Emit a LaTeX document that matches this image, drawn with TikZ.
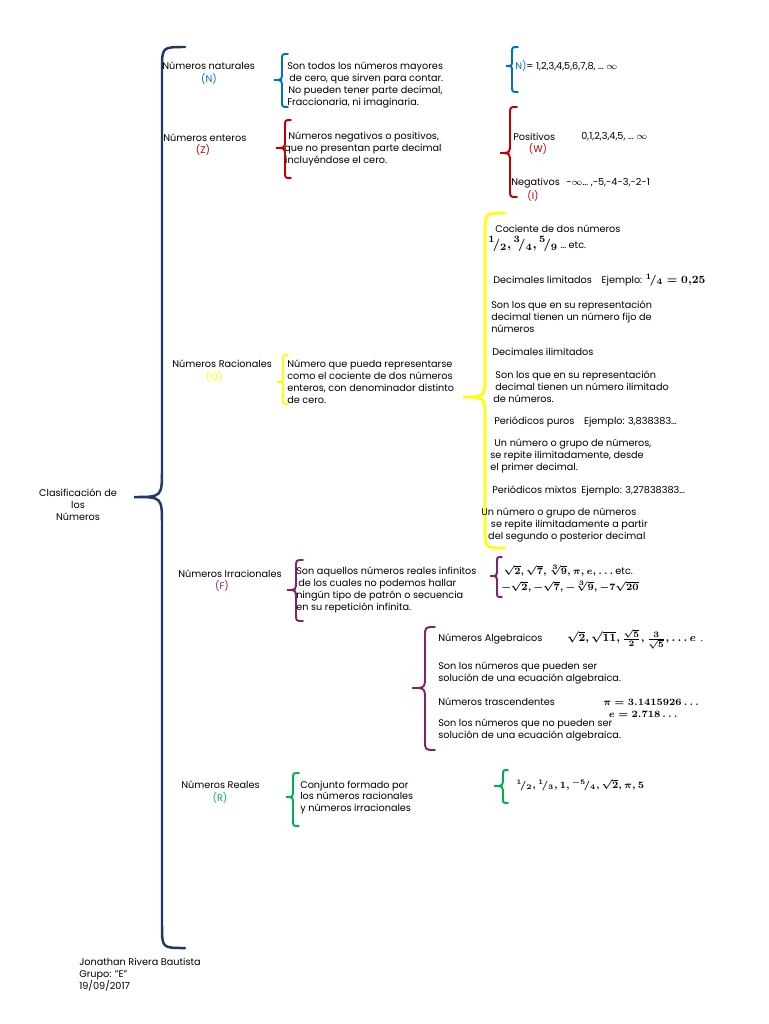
\documentclass[tikz,border=0pt]{standalone}
\usepackage{amsmath}
\usepackage{fontspec}
\setmainfont{Poppins}
\usepackage{tikz}
\usetikzlibrary{positioning}
\definecolor{Navy}{HTML}{1F3864}
\definecolor{Blue}{HTML}{0070C0}
\definecolor{Red}{HTML}{C00000}
\definecolor{Yellow}{HTML}{FFFF00}
\definecolor{Purple}{HTML}{7F2468}
\definecolor{Green}{HTML}{00B050}
% curly bracket: style, x, top, tip, bottom, end curl, tip depth
\newcommand{\llave}[7]{
  \draw[#1] (#2+#6,#3) .. controls (#2,#3) .. (#2,#3+#6)
    -- (#2,#4-#7) .. controls (#2,#4) .. (#2-#7,#4)
    .. controls (#2,#4) .. (#2,#4+#7)
    -- (#2,#5-#6) .. controls (#2,#5) .. (#2+#6,#5);
}
\newcommand{\mth}[2][8]{{\fontsize{#1}{10}\selectfont\boldmath$#2$}}
\tikzset{
  txt/.style={anchor=west, inner sep=0pt, align=left, font=\fontsize{7}{8.64}\selectfont},
  sym/.style={inner sep=0pt, font=\fontsize{7}{8.64}\selectfont},
  brace/.style={line width=1.4pt, line cap=round},
}

\begin{document}
\begin{tikzpicture}[x=0.01in, y=-0.01in]
    \fill[white] (0,0) rectangle (768,1024);
    \useasboundingbox (0,0) rectangle (768,1024);
    % main bracket
    \llave{brace, Navy, line width=1.8pt}{162}{47}{497}{948}{23}{28}
    \node[txt, align=center, anchor=center] (clas) at (78,505) {Clasificación de\\los\\Números};
    % second level
    \node[txt] (nat) at (162,66) {Números naturales};
    \node[sym, Blue] (natsym) at (209,79) {(N)};
    \node[txt] (ent) at (163,138) {Números enteros};
    \node[sym, Red] (entsym) at (203,150) {(Z)};
    \node[txt] (rac) at (172,364) {Números Racionales};
    \node[sym, Yellow] (racsym) at (214,377) {(Q)};
    \node[txt] (irr) at (178,574) {Números Irracionales};
    \node[sym, Purple] (irrsym) at (222,586) {(F)};
    \node[txt] (rea) at (181,785) {Números Reales};
    \node[sym, Green] (reasym) at (220,798) {(R)};
    % definitions
    \llave{brace, Blue}{282}{54}{80}{107}{6}{8}
    \node[txt] (natdef) at (287,85) {Son todos los números mayores\\
      \hspace*{1.5pt}de cero, que sirven para contar.\\
      \hspace*{0.7pt}No pueden tener parte decimal,\\
      Fraccionaria, ni imaginaria.};
    \llave{brace, Red}{285}{120}{148}{178}{6}{9}
    \node[txt] (entdef) at (284,148.5) {\hspace*{3pt}Números negativos o positivos,\\
      que no presentan parte decimal\\
      \hspace*{0.7pt}incluyéndose el cero.};
    \llave{brace, Yellow}{283}{355}{382}{404}{5}{6}
    \node[txt] (racdef) at (287,382) {Número que pueda representarse\\
      como el cociente de dos números\\
      enteros, con denominador distinto\\
      de cero.};
    \llave{brace, Purple}{296}{560}{590}{621}{7}{9}
    \node[txt] (irrdef) at (296,590) {Son aquellos números reales infinitos\\
      \hspace*{1.5pt}de los cuales no podemos hallar\\
      ningún tipo de patrón o secuencia\\
      en su repetición infinita.};
    \llave{brace, Green}{293}{773}{797}{826}{6}{7}
    \node[txt] (readef) at (300,797.5) {Conjunto formado por\\
      los números racionales\\
      y números irracionales};
    % naturals and integers
    \llave{brace, Blue}{512}{47}{66}{92}{6}{6}
    \node[txt] (natset) at (515,66) {\textcolor{Blue}{N)}= 1,2,3,4,5,6,7,8, \dots\ $\infty$};
    \llave{brace, Red}{510}{107}{153}{197}{7}{10}
    \node[txt] (pos) at (513,137) {Positivos};
    \node[sym, Red] (possym) at (538,149) {(W)};
    \node[txt] (posset) at (581,137) {0,1,2,3,4,5, \dots\ $\infty$};
    \node[txt] (neg) at (511,183) {Negativos};
    \node[sym, Red] (negsym) at (533,196) {(I)};
    \node[txt] (negset) at (566,183) {-$\infty$\dots\ ,-5,-4-3,-2-1};
    % rationals
    \llave{brace, Yellow, line width=2pt}{485}{213}{397}{548}{20}{22}
    \node[txt] (coc) at (495,229) {Cociente de dos números};
    \node[txt] (cocex) at (488,244) {\mth[9.5]{^{1}\!/_{2},{}^{3}\!/_{4},{}^{5}\!/_{9}} \dots\ etc.};
    \node[txt] (declim) at (493,280) {Decimales limitados\quad Ejemplo: \mth[8.5]{^{1}\!/_{4}=0{,}25}};
    \node[txt] (declimdef) at (491,317) {Son los que en su representación\\
      decimal tienen un número fijo de\\
      números};
    \node[txt] (decilim) at (492,352) {Decimales ilimitados};
    \node[txt] (decilimdef) at (493,387) {\hspace*{1.5pt}Son los que en su representación\\
      \hspace*{1.5pt}decimal tienen un número ilimitado\\
      de números.};
    \node[txt] (puros) at (494,422) {Periódicos puros\quad Ejemplo: 3,838383\dots};
    \node[txt] (purosdef) at (490,456) {\hspace*{3pt}Un número o grupo de números,\\
      se repite ilimitadamente, desde\\
      el primer decimal.};
    \node[txt] (mixtos) at (492,491) {Periódicos mixtos\enspace Ejemplo: 3,27838383\dots};
    \node[txt] (mixtosdef) at (481,525) {Un número o grupo de números\\
      \hspace*{7pt}se repite ilimitadamente a partir\\
      \hspace*{5pt}del segundo o posterior decimal};
    % irrationals
    \llave{brace, Purple}{497}{557}{576}{597}{5}{7}
    \node[txt] (irrex) at (501,579) {\hspace*{2pt}\mth[7.5]{\sqrt{2},\sqrt{7},\sqrt[3]{9},\pi,e,\dots}etc.\\[3pt]
      \mth[7.5]{-\sqrt{2},-\sqrt{7},-\sqrt[3]{9},-7\sqrt{20}}};
    \llave{brace, Purple}{425}{627}{688}{750}{10}{13}
    \node[txt] (alg) at (438,639) {Números Algebraicos};
    \node[txt] (algex) at (567,639) {\mth{\sqrt{2},\sqrt{11},\tfrac{\sqrt{5}}{2},\tfrac{3}{\sqrt{5}},\dots e}\enspace .};
    \node[txt] (algdef) at (438,673) {Son los números que pueden ser\\
      solución de una ecuación algebraica.};
    \node[txt] (tras) at (438,702) {Números trascendentes};
    \node[txt] (trasex) at (603,708.5) {\mth[7]{\pi=3.1415926\dots}\\[0.5pt]
      \hspace*{4pt}\mth[7]{e=2.718\dots}};
    \node[txt] (trasdef) at (438,730) {Son los números que no pueden ser\\
      solución de una ecuación algebraica.};
    % reals
    \llave{brace, Green}{503}{770}{786}{803}{5}{9}
    \node[txt] (reaex) at (516,785) {\mth[7.5]{^{1}\!/_{2},{}^{1}\!/_{3},1,{}^{-5}\!/_{4},\sqrt{2},\pi,5}};
    % author
    \node[txt] (autor) at (79,975) {Jonathan Rivera Bautista\\
      Grupo: "E"\\
      19/09/2017};
  \end{tikzpicture}
\end{document}
